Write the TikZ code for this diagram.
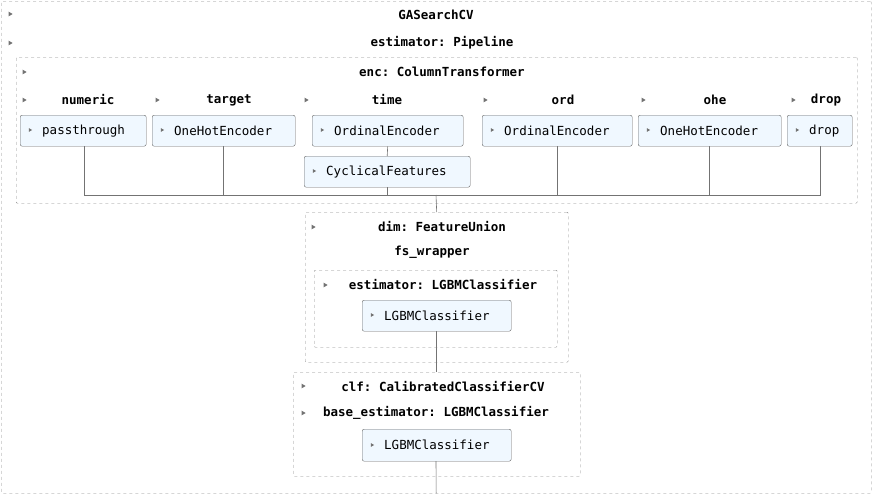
\documentclass[tikz,border=0pt]{standalone}
\usepackage{fontspec}
\setmonofont{DejaVu Sans Mono}
\usetikzlibrary{shapes.geometric}
\definecolor{boxfill}{RGB}{240,248,255}
\begin{document}
\begin{tikzpicture}[x=1pt,y=-1pt,
  dbox/.style={draw=black!45,dashed,rounded corners=1pt,inner sep=0,anchor=north west},
  est/.style={draw=black!60,fill=boxfill,rounded corners=2pt,font=\ttfamily\fontsize{12.5}{14}\selectfont,inner sep=0,anchor=north west,text width=#1,align=left},
  lbl/.style={font=\ttfamily\bfseries\fontsize{12.5}{14}\selectfont},
  tri/.style={fill=black!55,isosceles triangle,isosceles triangle apex angle=60,inner sep=0,minimum size=4pt},
  ln/.style={draw=black!55,line width=0.6pt}]
\useasboundingbox (0,0) rectangle (873,496);
% dashed containers
\node[dbox,minimum width=870pt,minimum height=492pt] (outer) at (1,1) {};
\node[dbox,minimum width=841pt,minimum height=146pt] (enc) at (16,57) {};
\node[dbox,minimum width=263pt,minimum height=150pt] (dim) at (305,212) {};
\node[dbox,minimum width=243pt,minimum height=77pt] (inner) at (314,270) {};
\node[dbox,minimum width=287pt,minimum height=104pt] (clf) at (293,372) {};
% lines (behind boxes)
\coordinate (hl) at (84,195); \coordinate (hr) at (820,195);
\coordinate (hc) at (436,195);
\draw[ln] (84,146) -- (hl) -- (hr) -- (820,146);
\draw[ln] (223,146) -- (223,195);
\draw[ln] (387,187) -- (387,195);
\draw[ln] (557,146) -- (557,195);
\draw[ln] (709,146) -- (709,195);
\draw[ln] (hc) -- (dim.north);
\coordinate (l1) at (436,331);
\draw[ln] (l1) -- (436,372);
\draw[ln] (436,461) -- (outer.south);
% labels
\node[lbl] (t0) at (436,15) {GASearchCV};
\node[lbl] (t1) at (442,43) {estimator: Pipeline};
\node[lbl] (t2) at (442,72) {enc: ColumnTransformer};
\node[lbl] (c1) at (88,100) {numeric};
\node[lbl] (c2) at (229,100) {target};
\node[lbl] (c3) at (387,100) {time};
\node[lbl] (c4) at (563,100) {ord};
\node[lbl] (c5) at (715,100) {ohe};
\node[lbl] (c6) at (826,100) {drop};
\node[lbl] (t3) at (442,227) {dim: FeatureUnion};
\node[lbl] (t4) at (432,252) {fs\_wrapper};
\node[lbl] (t5) at (443,285) {estimator: LGBMClassifier};
\node[lbl] (t6) at (443,386) {clf: CalibratedClassifierCV};
\node[lbl] (t7) at (436,413) {base\_estimator: LGBMClassifier};
\foreach \n/\x/\y in {a/10/14,b/10/43,c/24/72,d/24/100,e/157/100,f/306/100,g/485/100,h/643/100,i/793/100,j/313/227,k/325/285,l/303/386,m/303/413}
  \node[tri] (tr\n) at (\x,\y) {};
% estimator boxes
\node[est=126pt,minimum height=31pt] (b1) at (20,115) {\hspace*{22pt}passthrough};
\node[est=143pt,minimum height=31pt] (b2) at (152,115) {\hspace*{22pt}OneHotEncoder};
\node[est=151pt,minimum height=31pt] (b3) at (312,115) {\hspace*{22pt}OrdinalEncoder};
\node[est=150pt,minimum height=31pt] (b4) at (482,115) {\hspace*{22pt}OrdinalEncoder};
\node[est=143pt,minimum height=31pt] (b5) at (638,115) {\hspace*{22pt}OneHotEncoder};
\node[est=65pt,minimum height=31pt] (b6) at (787,115) {\hspace*{22pt}drop};
\node[est=166pt,minimum height=31pt] (b7) at (304,156) {\hspace*{22pt}CyclicalFeatures};
\node[est=149pt,minimum height=31pt] (b8) at (362,300) {\hspace*{22pt}LGBMClassifier};
\node[est=149pt,minimum height=32pt] (b9) at (362,429) {\hspace*{22pt}LGBMClassifier};
\draw[ln] (b3.south) -- (b7.north);
\foreach \n/\x/\y in {1/30/130,2/162/130,3/322/130,4/492/130,5/648/130,6/797/130,7/314/171,8/372/315,9/372/445}
  \node[tri,scale=0.8] (bt\n) at (\x,\y) {};
\end{tikzpicture}
\end{document}
